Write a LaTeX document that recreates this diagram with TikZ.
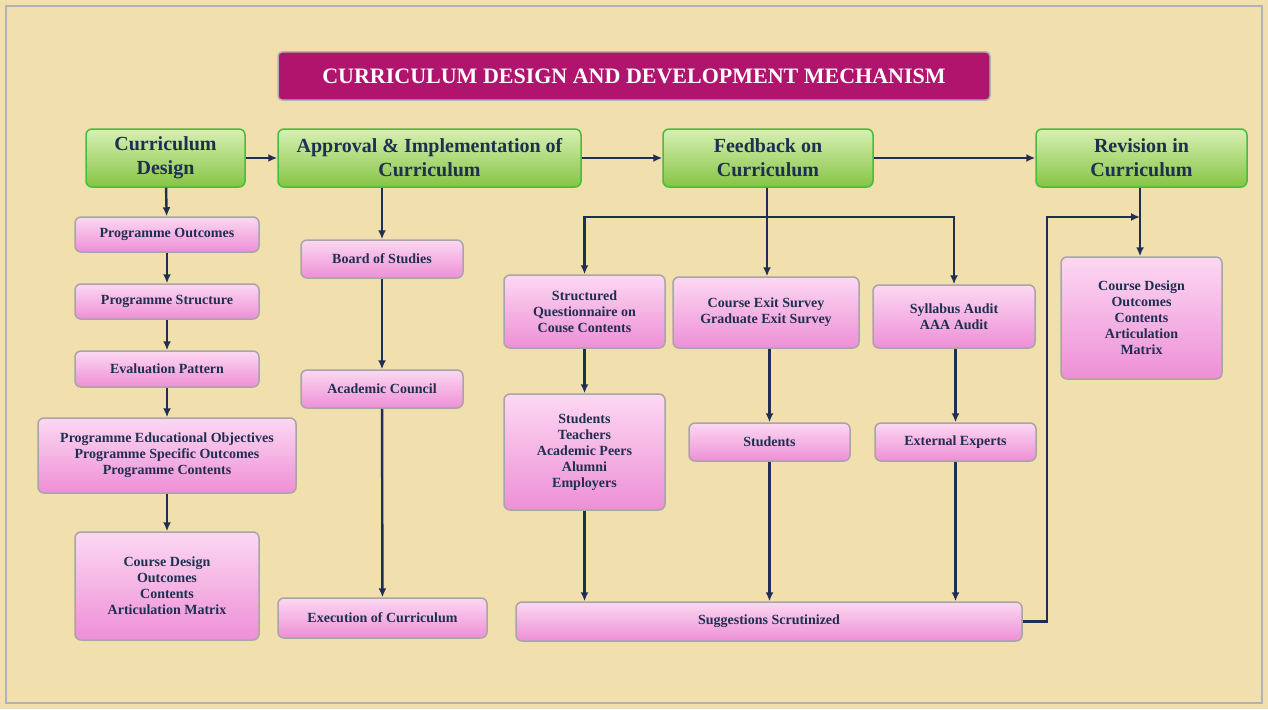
\documentclass[tikz,border=0pt]{standalone}
\usepackage{fontspec}
\setmainfont{Liberation Serif}
\usetikzlibrary{arrows.meta}
\begin{document}
\begin{tikzpicture}[x=1pt,y=-1pt,
  box/.style={draw=gray!70, line width=1.5pt, rounded corners=6pt, align=center, text=navy, inner sep=2pt, font=\fontsize{14}{16}\selectfont\bfseries},
  pk/.style={box, top color=pinkA, bottom color=pinkB},
  gr/.style={box, draw=green!50!gray, top color=greenA, bottom color=greenB, font=\fontsize{20}{24}\selectfont\bfseries},
  ar/.style={-{Latex[length=9pt,width=8pt]}, line width=2.4pt, draw=navy}]
\definecolor{navy}{HTML}{1F2F50}
\definecolor{pinkA}{HTML}{FCD8F2}
\definecolor{pinkB}{HTML}{EE8FD6}
\definecolor{greenA}{HTML}{D8F0B4}
\definecolor{greenB}{HTML}{86C444}
\definecolor{bg}{HTML}{F2DFAE}
\useasboundingbox (0,0) rectangle (1268,709);
\fill[bg] (0,0) rectangle (1268,709);
\draw[gray!60, line width=2pt] (6,6) rectangle (1262,703);
\node[draw=gray!60, line width=1.5pt, fill={rgb,255:red,176;green,20;blue,108}, rounded corners=4pt, minimum width=712, minimum height=48, text=white, font=\fontsize{22}{26}\selectfont\bfseries] (t) at (634,76) {CURRICULUM DESIGN AND DEVELOPMENT MECHANISM};
% green
\node[gr, minimum width=159, minimum height=58] (cd) at (165.5,158) {Curriculum\\Design};
\node[gr, minimum width=303, minimum height=58] (ap) at (429.5,158) {Approval \& Implementation of\\Curriculum};
\node[gr, minimum width=210, minimum height=58] (fb) at (768,158) {Feedback on\\Curriculum};
\node[gr, minimum width=211, minimum height=58] (rv) at (1141.5,158) {Revision in\\Curriculum};
% left column
\node[pk, minimum width=184, minimum height=35] (po) at (167,234.5) {Programme Outcomes};
\node[pk, minimum width=184, minimum height=35] (ps) at (167,301.5) {Programme Structure};
\node[pk, minimum width=184, minimum height=36] (ep) at (167,369) {Evaluation Pattern};
\node[pk, minimum width=258, minimum height=75] (peo) at (167,455.5) {Programme Educational Objectives\\Programme Specific Outcomes\\Programme Contents};
\node[pk, minimum width=184, minimum height=108] (cdl) at (167,586) {Course Design\\Outcomes\\Contents\\Articulation Matrix};
% approval column
\node[pk, minimum width=162, minimum height=38] (bos) at (382,259) {Board of Studies};
\node[pk, minimum width=162, minimum height=38] (ac) at (382,389) {Academic Council};
\node[pk, minimum width=209, minimum height=40] (ex) at (382.5,618) {Execution of Curriculum};
% feedback
\node[pk, minimum width=161, minimum height=73] (sq) at (584.5,311.5) {Structured\\Questionnaire on\\Couse Contents};
\node[pk, minimum width=186, minimum height=71] (ce) at (766,312.5) {Course Exit Survey\\Graduate Exit Survey};
\node[pk, minimum width=162, minimum height=63] (sa) at (954,316.5) {Syllabus Audit\\AAA Audit};
\node[pk, minimum width=161, minimum height=116] (st) at (584.5,452) {Students\\Teachers\\Academic Peers\\Alumni\\Employers};
\node[pk, minimum width=161, minimum height=38] (s2) at (769.5,442) {Students};
\node[pk, minimum width=161, minimum height=38] (ee) at (955.5,442) {External Experts};
\node[pk, minimum width=506, minimum height=39] (sg) at (769,621.5) {Suggestions Scrutinized};
\node[pk, minimum width=161, minimum height=122] (cdr) at (1141.5,318) {Course Design\\Outcomes\\Contents\\Articulation\\Matrix};
% arrows
\draw[ar] (cd) -- (ap);
\draw[ar] (ap) -- (fb);
\draw[ar] (fb) -- (rv);
\draw[ar] (cd) -- (po);
\draw[ar] (po) -- (ps);
\draw[ar] (ps) -- (ep);
\draw[ar] (ep) -- (peo);
\draw[ar] (peo) -- (cdl);
\draw[ar] (ap.south -| bos) -- (bos);
\draw[ar] (bos) -- (ac);
\draw[ar] (ac) -- (ex);
\coordinate (j) at (767,217);
\draw[ar] (fb.south -| j) -- (ce.north -| j);
\draw[ar] (j) -| (sq.north);
\draw[ar] (j) -| (sa.north);
\draw[ar] (sq) -- (st);
\draw[ar] (ce.south -| s2) -- (s2);
\draw[ar] (sa.south -| ee) -- (ee);
\draw[ar] (st.south) -- (sg.north -| st.south);
\draw[ar] (s2) -- (sg.north -| s2);
\draw[ar] (ee) -- (sg.north -| ee);
\coordinate (k) at (1140,217);
\draw[ar] (sg.east) -- ++(24,0) |- (k);
\draw[ar] (rv.south -| k) -- (cdr.north -| k);
\end{tikzpicture}
\end{document}
